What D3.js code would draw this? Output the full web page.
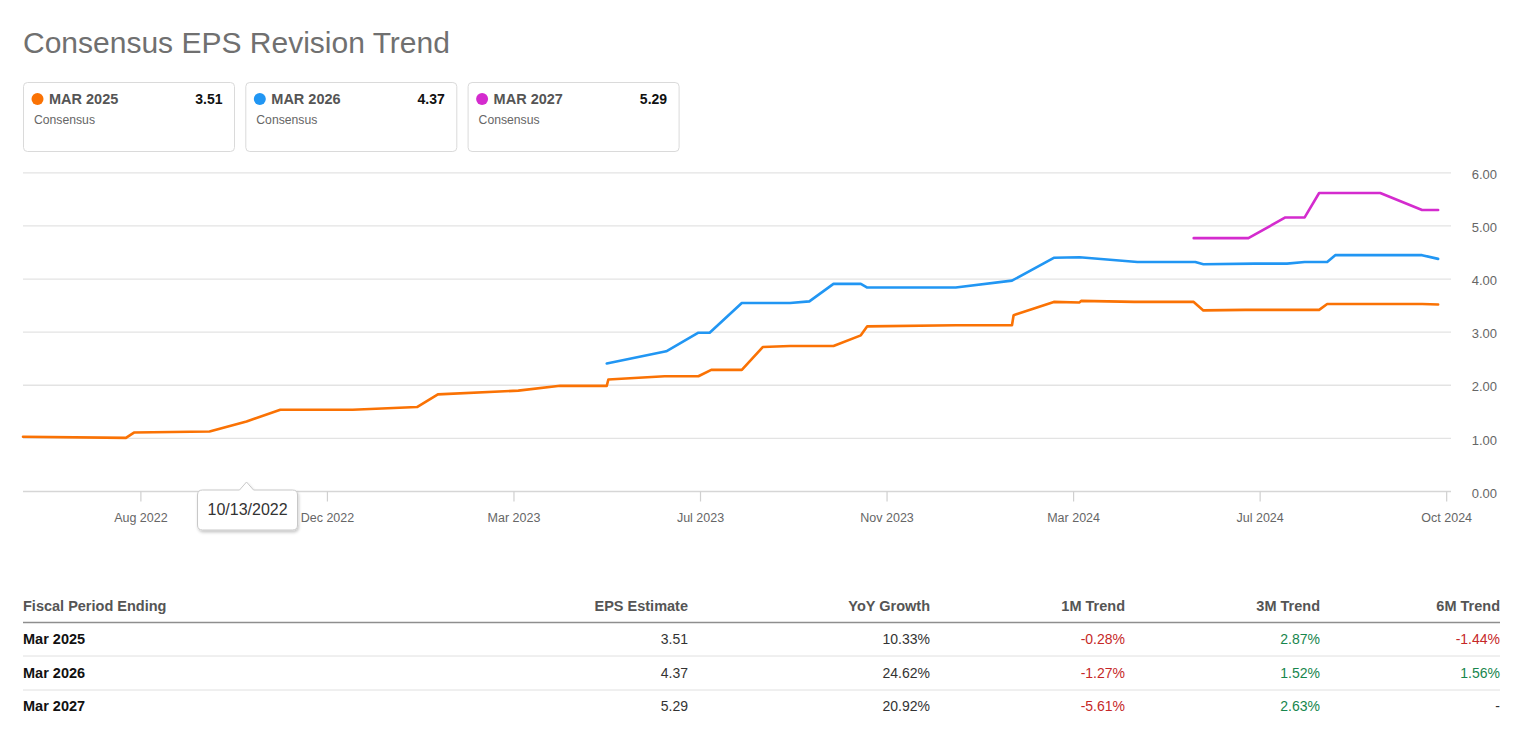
<!DOCTYPE html>
<html>
<head>
<meta charset="utf-8">
<script src="https://cdn.jsdelivr.net/npm/d3@7"></script>
<style>
  html, body { margin: 0; padding: 0; background: #fff; }
  svg { display: block; font-family: "Liberation Sans", Arial, sans-serif; }
</style>
</head>
<body>
<svg id="chart" width="1523" height="744"></svg>
<script>
// ---------------- DATA ----------------
const seriesNames = ["MAR 2025", "MAR 2026", "MAR 2027"];
const seriesColors = ["#fa7204", "#2196f3", "#d42bce"];

const mar2025Dates = ["2022-05-27","2022-07-30","2022-08-04","2022-09-20","2022-10-13","2022-11-03","2022-12-18","2023-01-27","2023-02-09","2023-03-31","2023-04-26","2023-05-25","2023-05-26","2023-06-30","2023-07-21","2023-07-29","2023-08-17","2023-08-30","2023-09-16","2023-10-13","2023-10-30","2023-11-03","2023-12-28","2024-02-01","2024-02-02","2024-02-27","2024-03-14","2024-03-15","2024-04-17","2024-05-24","2024-05-30","2024-06-25","2024-08-10","2024-08-15","2024-10-13","2024-10-23"];
const mar2025Values = [1.02,1.00,1.10,1.12,1.31,1.53,1.53,1.58,1.82,1.89,1.98,1.98,2.10,2.16,2.16,2.28,2.28,2.71,2.73,2.73,2.93,3.10,3.12,3.12,3.31,3.56,3.55,3.58,3.56,3.56,3.40,3.41,3.41,3.52,3.52,3.51];

const mar2026Dates = ["2023-05-25","2023-07-01","2023-07-21","2023-07-28","2023-08-17","2023-09-16","2023-09-28","2023-10-13","2023-10-30","2023-11-03","2023-12-28","2024-02-01","2024-02-27","2024-03-14","2024-04-19","2024-05-25","2024-05-30","2024-07-01","2024-07-21","2024-08-01","2024-08-15","2024-08-20","2024-10-13","2024-10-23"];
const mar2026Values = [2.40,2.63,2.98,2.98,3.54,3.54,3.57,3.90,3.90,3.83,3.83,3.96,4.39,4.40,4.31,4.31,4.27,4.28,4.28,4.31,4.31,4.44,4.44,4.37];

const mar2027Dates = ["2024-05-24","2024-06-27","2024-07-20","2024-08-01","2024-08-10","2024-09-17","2024-10-13","2024-10-23"];
const mar2027Values = [4.76,4.76,5.15,5.15,5.61,5.61,5.29,5.29];

const xDomain = ["2022-05-27", "2024-10-31"];
const xTickDates = ["2022-08-08","2022-12-02","2023-03-28","2023-07-22","2023-11-15","2024-03-10","2024-07-04","2024-10-28"];
const yTicks = [0, 1, 2, 3, 4, 5, 6];
const tooltipDate = "2022-10-13";

const tableHeaders = ["Fiscal Period Ending", "EPS Estimate", "YoY Growth", "1M Trend", "3M Trend", "6M Trend"];
const tablePeriods = ["Mar 2025", "Mar 2026", "Mar 2027"];
const tableEps = ["3.51", "4.37", "5.29"];
const tableYoy = ["10.33%", "24.62%", "20.92%"];
const table1M = ["-0.28%", "-1.27%", "-5.61%"];
const table3M = ["2.87%", "1.52%", "2.63%"];
const table6M = ["-1.44%", "1.56%", "-"];

// ---------------- DRAW ----------------
const parse = d3.utcParse("%Y-%m-%d");
const svg = d3.select("#chart");

const defs = svg.append("defs");
const f = defs.append("filter").attr("id", "shadow").attr("x", "-20%").attr("y", "-20%").attr("width", "140%").attr("height", "160%");
f.append("feDropShadow").attr("dx", 1).attr("dy", 2).attr("stdDeviation", 1.6).attr("flood-color", "#000").attr("flood-opacity", 0.22);

// Title
svg.append("text").attr("x", 23).attr("y", 53)
  .attr("font-size", 30).attr("fill", "#707070").text("Consensus EPS Revision Trend");

const series = [
  { name: seriesNames[0], color: seriesColors[0], data: mar2025Dates.map((d, i) => ({ date: parse(d), value: mar2025Values[i] })) },
  { name: seriesNames[1], color: seriesColors[1], data: mar2026Dates.map((d, i) => ({ date: parse(d), value: mar2026Values[i] })) },
  { name: seriesNames[2], color: seriesColors[2], data: mar2027Dates.map((d, i) => ({ date: parse(d), value: mar2027Values[i] })) }
];

// Legend cards
const cardW = 211, cardH = 69, cardGap = 222.3;
const cards = svg.append("g").selectAll("g").data(series).join("g")
  .attr("transform", (d, i) => `translate(${23.5 + i * cardGap},82.5)`);
cards.append("rect").attr("width", cardW).attr("height", cardH).attr("rx", 4)
  .attr("fill", "#fff").attr("stroke", "#dadada");
cards.append("circle").attr("cx", 14).attr("cy", 16.5).attr("r", 6).attr("fill", d => d.color);
cards.append("text").attr("x", 25.5).attr("y", 21.5).attr("font-size", 14.5).attr("font-weight", "bold")
  .attr("fill", "#555").text(d => d.name);
cards.append("text").attr("x", 199).attr("y", 21.5).attr("font-size", 14).attr("font-weight", "bold")
  .attr("text-anchor", "end").attr("fill", "#111").text(d => d3.format(".2f")(d.data[d.data.length - 1].value));
cards.append("text").attr("x", 10.5).attr("y", 41.5).attr("font-size", 12.2)
  .attr("fill", "#666").text("Consensus");

// Scales
const x = d3.scaleUtc().domain(xDomain.map(parse)).range([23, 1451]);
const y = d3.scaleLinear().domain([0, 6]).range([491, 172.3]);

// Gridlines
svg.append("g").selectAll("line").data(yTicks).join("line")
  .attr("x1", 23).attr("x2", 1451)
  .attr("y1", d => y(d) + 0.5).attr("y2", d => y(d) + 0.5)
  .attr("stroke", d => d === 0 ? "#d6d6d6" : "#e3e3e3").attr("stroke-width", 1.3);

// Y axis (right)
const yAxis = d3.axisRight(y).tickValues(yTicks).tickFormat(d3.format(".2f")).tickSize(0).tickPadding(0);
const yg = svg.append("g").attr("transform", "translate(1497,2)").call(yAxis);
yg.select(".domain").remove();
yg.selectAll("text").attr("text-anchor", "end").attr("font-size", 13).attr("fill", "#666")
  .attr("font-family", "'Liberation Sans', Arial, sans-serif");

// X axis
const xAxis = d3.axisBottom(x).tickValues(xTickDates.map(parse)).tickFormat(d3.utcFormat("%b %Y")).tickSize(10).tickPadding(12);
const xg = svg.append("g").attr("transform", "translate(0,491.5)").call(xAxis);
xg.select(".domain").remove();
xg.selectAll(".tick line").attr("stroke", "#d0d0d0").attr("stroke-width", 1.2);
xg.selectAll("text").attr("font-size", 12.5).attr("fill", "#666")
  .attr("font-family", "'Liberation Sans', Arial, sans-serif");

// Lines
const line = d3.line().x(d => x(d.date)).y(d => y(d.value));
svg.append("g").selectAll("path").data(series).join("path")
  .attr("d", d => line(d.data)).attr("fill", "none")
  .attr("stroke", d => d.color).attr("stroke-width", 2.6)
  .attr("stroke-linejoin", "round").attr("stroke-linecap", "round");

// Tooltip on x axis
const tx = x(parse(tooltipDate));
const tip = svg.append("g").attr("transform", `translate(${tx},490)`);
const bw = 100, bh = 40, bx = -49, r = 5, ah = 8, aw = 7;
const tipPath = `M${bx + r},0 L${-aw},0 L0,${-ah} L${aw},0 L${bx + bw - r},0 Q${bx + bw},0 ${bx + bw},${r} L${bx + bw},${bh - r} Q${bx + bw},${bh} ${bx + bw - r},${bh} L${bx + r},${bh} Q${bx},${bh} ${bx},${bh - r} L${bx},${r} Q${bx},0 ${bx + r},0 Z`;
tip.append("path").attr("d", tipPath).attr("fill", "#fff").attr("stroke", "#c8c8c8").attr("stroke-width", 1)
  .attr("filter", "url(#shadow)");
tip.append("text").attr("x", 1).attr("y", 25).attr("text-anchor", "middle").attr("font-size", 16)
  .attr("fill", "#333").text(d3.utcFormat("%m/%d/%Y")(parse(tooltipDate)));

// Table
const colRight = [null, 688, 930, 1125, 1320, 1500];
const th = svg.append("g");
tableHeaders.forEach((h, i) => {
  th.append("text").attr("x", i === 0 ? 23 : colRight[i]).attr("y", 611)
    .attr("text-anchor", i === 0 ? "start" : "end")
    .attr("font-size", 14.5).attr("font-weight", "bold").attr("fill", "#555").text(h);
});
svg.append("line").attr("x1", 23).attr("x2", 1500).attr("y1", 622.5).attr("y2", 622.5)
  .attr("stroke", "#8e8e8e").attr("stroke-width", 1.3);

const rowY = [644, 678, 711];
const colorFor = v => v === "-" ? "#333" : (v.trim().startsWith("-") ? "#c62828" : "#17864d");
const rows = svg.append("g").selectAll("g").data(tablePeriods).join("g");
rows.each(function (p, i) {
  const g = d3.select(this);
  g.append("text").attr("x", 23).attr("y", rowY[i]).attr("font-size", 14.5).attr("font-weight", "bold").attr("fill", "#111").text(p);
  const vals = [tableEps[i], tableYoy[i], table1M[i], table3M[i], table6M[i]];
  vals.forEach((v, j) => {
    g.append("text").attr("x", colRight[j + 1]).attr("y", rowY[i]).attr("text-anchor", "end")
      .attr("font-size", 14).attr("fill", j < 2 ? "#333" : colorFor(v)).text(v);
  });
  if (i < tablePeriods.length - 1) {
    g.append("line").attr("x1", 23).attr("x2", 1500).attr("y1", rowY[i] + 12).attr("y2", rowY[i] + 12)
      .attr("stroke", "#e0e0e0").attr("stroke-width", 1);
  }
});
</script>
</body>
</html>
